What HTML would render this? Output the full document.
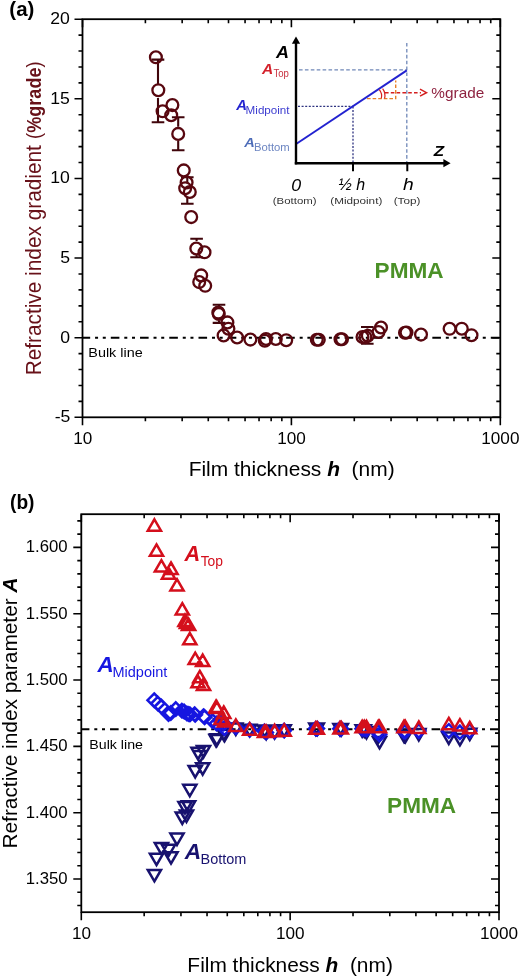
<!DOCTYPE html>
<html><head><meta charset="utf-8"><title>Refractive index gradient vs film thickness</title>
<style>
html,body{margin:0;padding:0;background:#fff;}
svg{display:block;}
text{font-family:"Liberation Sans", Arial, Helvetica, sans-serif;white-space:pre;}
</style></head>
<body>
<svg width="520" height="978" viewBox="0 0 520 978">
<rect width="520" height="978" fill="#fff"/>
<rect x="82.5" y="19.2" width="417.8" height="398.1" fill="none" stroke="#000" stroke-width="1.8"/>
<path d="M74.5 417.3H82.5M492.3 417.3H500.3M74.5 337.68H82.5M492.3 337.68H500.3M74.5 258.06H82.5M492.3 258.06H500.3M74.5 178.44H82.5M492.3 178.44H500.3M74.5 98.82H82.5M492.3 98.82H500.3M74.5 19.2H82.5M492.3 19.2H500.3M78.5 401.38H82.5M496.3 401.38H500.3M78.5 385.45H82.5M496.3 385.45H500.3M78.5 369.53H82.5M496.3 369.53H500.3M78.5 353.6H82.5M496.3 353.6H500.3M78.5 321.76H82.5M496.3 321.76H500.3M78.5 305.83H82.5M496.3 305.83H500.3M78.5 289.91H82.5M496.3 289.91H500.3M78.5 273.98H82.5M496.3 273.98H500.3M78.5 242.14H82.5M496.3 242.14H500.3M78.5 226.21H82.5M496.3 226.21H500.3M78.5 210.29H82.5M496.3 210.29H500.3M78.5 194.36H82.5M496.3 194.36H500.3M78.5 162.52H82.5M496.3 162.52H500.3M78.5 146.59H82.5M496.3 146.59H500.3M78.5 130.67H82.5M496.3 130.67H500.3M78.5 114.74H82.5M496.3 114.74H500.3M78.5 82.9H82.5M496.3 82.9H500.3M78.5 66.97H82.5M496.3 66.97H500.3M78.5 51.05H82.5M496.3 51.05H500.3M78.5 35.12H82.5M496.3 35.12H500.3M82.5 417.3V425.3M82.5 19.2V27.2M291.4 417.3V425.3M291.4 19.2V27.2M500.3 417.3V425.3M500.3 19.2V27.2M145.39 417.3V421.3M145.39 19.2V23.2M182.17 417.3V421.3M182.17 19.2V23.2M208.27 417.3V421.3M208.27 19.2V23.2M228.51 417.3V421.3M228.51 19.2V23.2M245.06 417.3V421.3M245.06 19.2V23.2M259.04 417.3V421.3M259.04 19.2V23.2M271.16 417.3V421.3M271.16 19.2V23.2M281.84 417.3V421.3M281.84 19.2V23.2M354.29 417.3V421.3M354.29 19.2V23.2M391.07 417.3V421.3M391.07 19.2V23.2M417.17 417.3V421.3M417.17 19.2V23.2M437.41 417.3V421.3M437.41 19.2V23.2M453.96 417.3V421.3M453.96 19.2V23.2M467.94 417.3V421.3M467.94 19.2V23.2M480.06 417.3V421.3M480.06 19.2V23.2M490.74 417.3V421.3M490.74 19.2V23.2" stroke="#000" stroke-width="1.6" fill="none"/>
<text x="54.70" y="422.30" textLength="15.66" lengthAdjust="spacingAndGlyphs" font-size="16">-5</text>
<text x="60.20" y="342.68" textLength="9.80" lengthAdjust="spacingAndGlyphs" font-size="16">0</text>
<text x="60.20" y="263.06" textLength="9.80" lengthAdjust="spacingAndGlyphs" font-size="16">5</text>
<text x="50.30" y="183.44" textLength="19.58" lengthAdjust="spacingAndGlyphs" font-size="16">10</text>
<text x="50.30" y="103.82" textLength="19.58" lengthAdjust="spacingAndGlyphs" font-size="16">15</text>
<text x="50.30" y="24.20" textLength="19.58" lengthAdjust="spacingAndGlyphs" font-size="16">20</text>
<text x="73.17" y="443.70" textLength="19.04" lengthAdjust="spacingAndGlyphs" font-size="16">10</text>
<text x="277.25" y="443.70" textLength="28.57" lengthAdjust="spacingAndGlyphs" font-size="16">100</text>
<text x="481.34" y="443.70" textLength="38.09" lengthAdjust="spacingAndGlyphs" font-size="16">1000</text>
<line x1="82.5" y1="337.7" x2="500.3" y2="337.7" stroke="#000" stroke-width="2.1" stroke-dasharray="8.6 4.9 3 4.7 3 5.03" stroke-dashoffset="0.93"/>
<path d="M158 59.6V83.9M158 97.9V122.2M151.7 59.6H164.3M151.7 122.2H164.3M178.2 117.3V126.75M178.2 140.75V150.2M171.9 117.3H184.5M171.9 150.2H184.5M187.3 177.3V183.55M187.3 197.55V203.8M181 177.3H193.6M181 203.8H193.6M196.6 238.8V241.05M196.6 255.05V257.3M190.3 238.8H202.9M190.3 257.3H202.9M219 304.7V306.8M219 320.8V322.9M212.7 304.7H225.3M212.7 322.9H225.3M367.3 327V328.4M367.3 342.4V343.8M361 327H373.6M361 343.8H373.6" stroke="#40050b" stroke-width="2.1" fill="none"/>
<g fill="none" stroke="#58070f" stroke-width="2.3">
<circle cx="155.9" cy="57.3" r="5.9"/>
<circle cx="158.3" cy="90.2" r="5.9"/>
<circle cx="162.6" cy="111.3" r="5.9"/>
<circle cx="172.4" cy="105.1" r="5.9"/>
<circle cx="171.2" cy="115.2" r="5.9"/>
<circle cx="178.2" cy="133.9" r="5.9"/>
<circle cx="183.75" cy="170.4" r="5.9"/>
<circle cx="186.6" cy="182.5" r="5.9"/>
<circle cx="185.2" cy="188.2" r="5.9"/>
<circle cx="189.8" cy="192" r="5.9"/>
<circle cx="191.2" cy="217.1" r="5.9"/>
<circle cx="196.3" cy="248.5" r="5.9"/>
<circle cx="204.5" cy="252.3" r="5.9"/>
<circle cx="201.2" cy="275.4" r="5.9"/>
<circle cx="199.2" cy="282.1" r="5.9"/>
<circle cx="205.2" cy="285.8" r="5.9"/>
<circle cx="218.3" cy="312.6" r="5.9"/>
<circle cx="218.8" cy="314" r="5.9"/>
<circle cx="227.4" cy="322.4" r="5.9"/>
<circle cx="228.4" cy="328.7" r="5.9"/>
<circle cx="223.6" cy="335.4" r="5.9"/>
<circle cx="237.1" cy="337.5" r="5.9"/>
<circle cx="250.4" cy="339.6" r="5.9"/>
<circle cx="264.8" cy="340.8" r="5.9"/>
<circle cx="266" cy="339" r="5.9"/>
<circle cx="275.8" cy="339" r="5.9"/>
<circle cx="286.2" cy="340.2" r="5.9"/>
<circle cx="316.8" cy="339.8" r="5.9"/>
<circle cx="318.8" cy="339.8" r="5.9"/>
<circle cx="340.5" cy="339.2" r="5.9"/>
<circle cx="342" cy="339.2" r="5.9"/>
<circle cx="362.5" cy="337.1" r="5.9"/>
<circle cx="365.4" cy="337.1" r="5.9"/>
<circle cx="367.8" cy="335.7" r="5.9"/>
<circle cx="381" cy="327.5" r="5.9"/>
<circle cx="378.5" cy="332" r="5.9"/>
<circle cx="405" cy="332.7" r="5.9"/>
<circle cx="406.5" cy="332.5" r="5.9"/>
<circle cx="421" cy="334.6" r="5.9"/>
<circle cx="449.6" cy="328.8" r="5.9"/>
<circle cx="461.8" cy="328.7" r="5.9"/>
<circle cx="471.5" cy="335.2" r="5.9"/>
</g>
<text x="88.33" y="357.40" textLength="54.34" lengthAdjust="spacingAndGlyphs" font-size="13.4">Bulk line</text>
<text x="374.57" y="278.30" textLength="69.08" lengthAdjust="spacingAndGlyphs" font-size="22" font-weight="bold" fill="#4b9127">PMMA</text>
<text transform="translate(40.80 375.36) rotate(-90)" x="0" y="0" textLength="230.23" lengthAdjust="spacingAndGlyphs" font-size="21.2" fill="#681119">Refractive index gradient</text>
<text transform="translate(40.80 138.88) rotate(-90)" x="0" y="0" textLength="77.42" lengthAdjust="spacingAndGlyphs" font-size="20.5" fill="#681119">(<tspan font-weight="bold">%grade</tspan>)</text>
<text x="188.68" y="476.20" textLength="205.97" lengthAdjust="spacingAndGlyphs" font-size="19.8">Film thickness <tspan font-weight="bold" font-style="italic">h</tspan>  (nm)</text>
<text x="9.38" y="16.30" textLength="25.01" lengthAdjust="spacingAndGlyphs" font-size="20" font-weight="bold">(a)</text>
<line x1="299" y1="69.9" x2="406.8" y2="69.9" stroke="#7088b8" stroke-width="1.3" stroke-dasharray="3.6 2.3"/>
<line x1="406.8" y1="43" x2="406.8" y2="163" stroke="#7088b8" stroke-width="1.3" stroke-dasharray="3.6 2.3"/>
<line x1="298" y1="106.4" x2="353" y2="106.4" stroke="#2e3380" stroke-width="1.3" stroke-dasharray="2 1.6"/>
<line x1="353" y1="106.4" x2="353" y2="163" stroke="#2e3380" stroke-width="1.3" stroke-dasharray="2 1.6"/>
<line x1="296.5" y1="143.7" x2="406.8" y2="70.4" stroke="#2222d0" stroke-width="1.9"/>
<path d="M367 98.6H395.7V80.6" fill="none" stroke="#e8802a" stroke-width="1.4" stroke-dasharray="3.6 2"/>
<path d="M379.3 89.6A10 10 0 0 1 381.3 98.4M382.6 88.7A11.5 11.5 0 0 1 384.6 98.4" fill="none" stroke="#d42020" stroke-width="1.2"/>
<line x1="385" y1="92.7" x2="421" y2="92.7" stroke="#d42020" stroke-width="1.6" stroke-dasharray="3.6 2.2"/>
<path d="M420 89.2L426.5 92.7L420 96.2" fill="none" stroke="#d42020" stroke-width="1.5"/>
<text x="431.38" y="97.50" textLength="52.84" lengthAdjust="spacingAndGlyphs" font-size="15" fill="#8e2340">%grade</text>
<line x1="296" y1="164.4" x2="296" y2="43" stroke="#000" stroke-width="2.4"/>
<path d="M296 36.5L291.9 43.7H300.1Z" fill="#000"/>
<line x1="294.8" y1="163.2" x2="444" y2="163.2" stroke="#000" stroke-width="2.4"/>
<path d="M450.6 163.2L443.4 159.1V167.3Z" fill="#000"/>
<path d="M353 163V171.3M407.3 163V171.3" stroke="#000" stroke-width="2"/>
<text x="276.00" y="57.90" textLength="13.01" lengthAdjust="spacingAndGlyphs" font-size="16.5" font-weight="bold" font-style="italic">A</text>
<text x="433.70" y="156.30" textLength="10.36" lengthAdjust="spacingAndGlyphs" font-size="15" font-weight="bold" font-style="italic">Z</text>
<text x="261.90" y="74.20" textLength="11.25" lengthAdjust="spacingAndGlyphs" font-size="14" font-weight="bold" font-style="italic" fill="#d4222c">A</text>
<text x="273.50" y="77.30" textLength="15.42" lengthAdjust="spacingAndGlyphs" font-size="10" fill="#c8303f">Top</text>
<text x="236.30" y="110.40" textLength="10.74" lengthAdjust="spacingAndGlyphs" font-size="15" font-weight="bold" font-style="italic" fill="#2424d0">A</text>
<text x="245.64" y="114.10" textLength="43.94" lengthAdjust="spacingAndGlyphs" font-size="10" fill="#3c3cd0">Midpoint</text>
<text x="244.30" y="146.50" textLength="10.51" lengthAdjust="spacingAndGlyphs" font-size="13.5" font-weight="bold" font-style="italic" fill="#4d6cb8">A</text>
<text x="253.97" y="150.50" textLength="35.81" lengthAdjust="spacingAndGlyphs" font-size="10" fill="#6d86c2">Bottom</text>
<text x="291.39" y="190.50" textLength="9.91" lengthAdjust="spacingAndGlyphs" font-size="16" font-style="italic">0</text>
<text x="338.60" y="190.30" textLength="26.58" lengthAdjust="spacingAndGlyphs" font-size="16" font-style="italic">½ h</text>
<text x="403.00" y="190.30" textLength="10.69" lengthAdjust="spacingAndGlyphs" font-size="16" font-style="italic">h</text>
<text x="272.81" y="204.10" textLength="43.74" lengthAdjust="spacingAndGlyphs" font-size="9.6" fill="#333">(Bottom)</text>
<text x="330.28" y="204.10" textLength="52.02" lengthAdjust="spacingAndGlyphs" font-size="9.6" fill="#333">(Midpoint)</text>
<text x="393.68" y="204.10" textLength="26.67" lengthAdjust="spacingAndGlyphs" font-size="9.6" fill="#333">(Top)</text>
<rect x="81.3" y="514.2" width="417.7" height="398" fill="none" stroke="#000" stroke-width="1.8"/>
<path d="M73.3 879.03H81.3M491 879.03H499M73.3 812.7H81.3M491 812.7H499M73.3 746.37H81.3M491 746.37H499M73.3 680.03H81.3M491 680.03H499M73.3 613.7H81.3M491 613.7H499M73.3 547.37H81.3M491 547.37H499M77.3 905.57H81.3M495 905.57H499M77.3 892.3H81.3M495 892.3H499M77.3 865.77H81.3M495 865.77H499M77.3 852.5H81.3M495 852.5H499M77.3 839.23H81.3M495 839.23H499M77.3 825.97H81.3M495 825.97H499M77.3 799.43H81.3M495 799.43H499M77.3 786.17H81.3M495 786.17H499M77.3 772.9H81.3M495 772.9H499M77.3 759.63H81.3M495 759.63H499M77.3 733.1H81.3M495 733.1H499M77.3 719.83H81.3M495 719.83H499M77.3 706.57H81.3M495 706.57H499M77.3 693.3H81.3M495 693.3H499M77.3 666.77H81.3M495 666.77H499M77.3 653.5H81.3M495 653.5H499M77.3 640.23H81.3M495 640.23H499M77.3 626.97H81.3M495 626.97H499M77.3 600.43H81.3M495 600.43H499M77.3 587.17H81.3M495 587.17H499M77.3 573.9H81.3M495 573.9H499M77.3 560.63H81.3M495 560.63H499M77.3 534.1H81.3M495 534.1H499M77.3 520.83H81.3M495 520.83H499M81.3 912.2V920.2M81.3 514.2V522.2M290.15 912.2V920.2M290.15 514.2V522.2M499 912.2V920.2M499 514.2V522.2M144.17 912.2V916.2M144.17 514.2V518.2M180.95 912.2V916.2M180.95 514.2V518.2M207.04 912.2V916.2M207.04 514.2V518.2M227.28 912.2V916.2M227.28 514.2V518.2M243.82 912.2V916.2M243.82 514.2V518.2M257.8 912.2V916.2M257.8 514.2V518.2M269.91 912.2V916.2M269.91 514.2V518.2M280.59 912.2V916.2M280.59 514.2V518.2M353.02 912.2V916.2M353.02 514.2V518.2M389.8 912.2V916.2M389.8 514.2V518.2M415.89 912.2V916.2M415.89 514.2V518.2M436.13 912.2V916.2M436.13 514.2V518.2M452.67 912.2V916.2M452.67 514.2V518.2M466.65 912.2V916.2M466.65 514.2V518.2M478.76 912.2V916.2M478.76 514.2V518.2M489.44 912.2V916.2M489.44 514.2V518.2" stroke="#000" stroke-width="1.6" fill="none"/>
<text x="25.80" y="884.03" textLength="41.85" lengthAdjust="spacingAndGlyphs" font-size="16">1.350</text>
<text x="25.80" y="817.70" textLength="41.85" lengthAdjust="spacingAndGlyphs" font-size="16">1.400</text>
<text x="25.80" y="751.37" textLength="41.85" lengthAdjust="spacingAndGlyphs" font-size="16">1.450</text>
<text x="25.80" y="685.03" textLength="41.85" lengthAdjust="spacingAndGlyphs" font-size="16">1.500</text>
<text x="25.80" y="618.70" textLength="41.85" lengthAdjust="spacingAndGlyphs" font-size="16">1.550</text>
<text x="25.80" y="552.37" textLength="41.85" lengthAdjust="spacingAndGlyphs" font-size="16">1.600</text>
<text x="71.97" y="938.70" textLength="19.04" lengthAdjust="spacingAndGlyphs" font-size="16">10</text>
<text x="276.00" y="938.70" textLength="28.57" lengthAdjust="spacingAndGlyphs" font-size="16">100</text>
<text x="480.04" y="938.70" textLength="38.09" lengthAdjust="spacingAndGlyphs" font-size="16">1000</text>
<line x1="81.3" y1="729.3" x2="499" y2="729.3" stroke="#000" stroke-width="2.1" stroke-dasharray="8.6 4.9 3 4.7 3 5.03" stroke-dashoffset="0.5"/>
<path d="M154.4 881.32L161 869.92H147.8ZM156.5 865.04L163.1 853.64H149.9ZM161.4 854.43L168 843.03H154.8ZM171 863.53L177.6 852.13H164.4ZM168.5 856.19L175.1 844.79H161.9ZM177 844.96L183.6 833.56H170.4ZM182.3 823.93L188.9 812.53H175.7ZM186.5 821.9L193.1 810.5H179.9ZM185 813.41L191.6 802.01H178.4ZM188.6 812.6L195.2 801.2H182ZM189.8 796.17L196.4 784.77H183.2ZM195.2 777.39L201.8 765.99H188.6ZM202.7 774.64L209.3 763.24H196.1ZM199.8 762.5L206.4 751.1H193.2ZM198 759.25L204.6 747.85H191.4ZM203.5 757.4L210.1 746H196.9ZM216.1 746.46L222.7 735.06H209.5ZM217 745.74L223.6 734.34H210.4ZM223.75 740.38L230.35 728.98H217.15ZM224.5 741.25L231.1 729.85H217.9ZM221 730.59L227.6 719.19H214.4ZM235.8 734.92L242.4 723.52H229.2ZM249.7 736.16L256.3 724.76H243.1ZM264.5 737L271.1 725.6H257.9ZM266.2 739.19L272.8 727.79H259.6ZM274.6 738.39L281.2 726.99H268ZM284.2 736.53L290.8 725.13H277.6ZM315.8 734.92L322.4 723.52H309.2ZM317.3 734.92L323.9 723.52H310.7ZM340 735.45L346.6 724.05H333.4ZM341.3 735.45L347.9 724.05H334.7ZM362.2 736.71L368.8 725.31H355.6ZM364.3 736.71L370.9 725.31H357.7ZM366.5 738.41L373.1 727.01H359.9ZM379.5 748.37L386.1 736.97H372.9ZM378.3 742.91L384.9 731.51H371.7ZM404 742.06L410.6 730.66H397.4ZM405.3 742.31L411.9 730.91H398.7ZM418.8 740.45L425.4 729.05H412.2ZM448.8 743.91L455.4 732.51H442.2ZM459.9 745.33L466.5 733.93H453.3ZM469.7 740.12L476.3 728.72H463.1Z" fill="none" stroke="#18126f" stroke-width="2.5"/>
<path d="M154.2 693.5L160.9 700.2L154.2 706.9L147.5 700.2ZM157.8 696.8L164.5 703.5L157.8 710.2L151.1 703.5ZM161.5 700L168.2 706.7L161.5 713.4L154.8 706.7ZM170.8 706.3L177.5 713L170.8 719.7L164.1 713ZM168.5 707.3L175.2 714L168.5 720.7L161.8 714ZM175.8 702.3L182.5 709L175.8 715.7L169.1 709ZM181.8 703.9L188.5 710.6L181.8 717.3L175.1 710.6ZM187 706.9L193.7 713.6L187 720.3L180.3 713.6ZM184.2 704.8L190.9 711.5L184.2 718.2L177.5 711.5ZM188.8 707.3L195.5 714L188.8 720.7L182.1 714ZM190 707.7L196.7 714.4L190 721.1L183.3 714.4ZM194.6 707.6L201.3 714.3L194.6 721L187.9 714.3ZM203.5 709.6L210.2 716.3L203.5 723L196.8 716.3ZM204.2 709.9L210.9 716.6L204.2 723.3L197.5 716.6ZM195.2 708.1L201.9 714.8L195.2 721.5L188.5 714.8ZM204.6 710.5L211.3 717.2L204.6 723.9L197.9 717.2ZM212.5 714.3L219.2 721L212.5 727.7L205.8 721ZM216.5 716.8L223.2 723.5L216.5 730.2L209.8 723.5ZM223.75 716.74L230.45 723.44L223.75 730.14L217.05 723.44ZM224.5 721.48L231.2 728.18L224.5 734.88L217.8 728.18ZM221 714.89L227.7 721.59L221 728.29L214.3 721.59ZM235.8 720.51L242.5 727.21L235.8 733.91L229.1 727.21ZM249.7 723.03L256.4 729.73L249.7 736.43L243 729.73ZM264.5 724.6L271.2 731.3L264.5 738L257.8 731.3ZM266.2 725.7L272.9 732.4L266.2 739.1L259.5 732.4ZM274.6 724.9L281.3 731.6L274.6 738.3L267.9 731.6ZM284.2 723.77L290.9 730.47L284.2 737.17L277.5 730.47ZM315.8 721.91L322.5 728.61L315.8 735.31L309.1 728.61ZM317.3 721.91L324 728.61L317.3 735.31L310.6 728.61ZM340 722.07L346.7 728.77L340 735.47L333.3 728.77ZM341.3 722.07L348 728.77L341.3 735.47L334.6 728.77ZM362.2 722.05L368.9 728.75L362.2 735.45L355.5 728.75ZM364.3 722.05L371 728.75L364.3 735.45L357.6 728.75ZM366.5 722.91L373.2 729.61L366.5 736.31L359.8 729.61ZM379.5 727.89L386.2 734.59L379.5 741.29L372.8 734.59ZM378.3 725.16L385 731.86L378.3 738.56L371.6 731.86ZM404 724.73L410.7 731.43L404 738.13L397.3 731.43ZM405.3 724.85L412 731.55L405.3 738.25L398.6 731.55ZM418.8 724.28L425.5 730.98L418.8 737.68L412.1 730.98ZM448.8 724.21L455.5 730.91L448.8 737.61L442.1 730.91ZM459.9 725.56L466.6 732.26L459.9 738.96L453.2 732.26ZM469.7 724.31L476.4 731.01L469.7 737.71L463 731.01Z" fill="none" stroke="#1616e0" stroke-width="2.5"/>
<path d="M154.4 519.3L161 530.7H147.8ZM156.5 544.4L163.1 555.8H149.9ZM161.4 560.2L168 571.6H154.8ZM171 562.5L177.6 573.9H164.4ZM168.5 567.4L175.1 578.8H161.9ZM177 579.2L183.6 590.6H170.4ZM182.3 603.2L188.9 614.6H175.7ZM186.5 616.6L193.1 628H179.9ZM185 614.6L191.6 626H178.4ZM188.6 618.6L195.2 630H182ZM189.8 632.9L196.4 644.3H183.2ZM195.2 652.7L201.8 664.1H188.6ZM202.7 654.6L209.3 666H196.1ZM199.8 670.9L206.4 682.3H193.2ZM198 675.9L204.6 687.3H191.4ZM203.5 678.6L210.1 690H196.9ZM216.1 700.6L222.7 712H209.5ZM217 701.6L223.6 713H210.4ZM223.75 706.5L230.35 717.9H217.15ZM224.5 715.1L231.1 726.5H217.9ZM221 712.6L227.6 724H214.4ZM235.8 719.5L242.4 730.9H229.2ZM249.7 723.3L256.3 734.7H243.1ZM264.5 725.6L271.1 737H257.9ZM266.2 725.6L272.8 737H259.6ZM274.6 724.8L281.2 736.2H268ZM284.2 724.4L290.8 735.8H277.6ZM315.8 722.3L322.4 733.7H309.2ZM317.3 722.3L323.9 733.7H310.7ZM340 722.1L346.6 733.5H333.4ZM341.3 722.1L347.9 733.5H334.7ZM362.2 720.8L368.8 732.2H355.6ZM364.3 720.8L370.9 732.2H357.7ZM366.5 720.8L373.1 732.2H359.9ZM379.5 720.8L386.1 732.2H372.9ZM378.3 720.8L384.9 732.2H371.7ZM404 720.8L410.6 732.2H397.4ZM405.3 720.8L411.9 732.2H398.7ZM418.8 721.5L425.4 732.9H412.2ZM448.8 717.9L455.4 729.3H442.2ZM459.9 719.2L466.5 730.6H453.3ZM469.7 721.9L476.3 733.3H463.1Z" fill="none" stroke="#d40f1c" stroke-width="2.5"/>
<text x="89.31" y="748.50" textLength="53.65" lengthAdjust="spacingAndGlyphs" font-size="13">Bulk line</text>
<text x="184.60" y="561.20" textLength="15.70" lengthAdjust="spacingAndGlyphs" font-size="21.5" font-weight="bold" font-style="italic" fill="#d40f1c">A</text>
<text x="200.70" y="566.40" textLength="22.35" lengthAdjust="spacingAndGlyphs" font-size="13.8" fill="#d40f1c">Top</text>
<text x="97.40" y="671.50" textLength="16.20" lengthAdjust="spacingAndGlyphs" font-size="21.5" font-weight="bold" font-style="italic" fill="#1616e0">A</text>
<text x="112.48" y="677.40" textLength="54.86" lengthAdjust="spacingAndGlyphs" font-size="14.2" fill="#1616e0">Midpoint</text>
<text x="184.70" y="858.50" textLength="16.42" lengthAdjust="spacingAndGlyphs" font-size="21.5" font-weight="bold" font-style="italic" fill="#18126f">A</text>
<text x="200.47" y="863.60" textLength="45.91" lengthAdjust="spacingAndGlyphs" font-size="14" fill="#18126f">Bottom</text>
<text x="387.07" y="813.30" textLength="69.08" lengthAdjust="spacingAndGlyphs" font-size="22" font-weight="bold" fill="#4b9127">PMMA</text>
<text transform="translate(16.50 848.54) rotate(-90)" x="0" y="0" textLength="271.07" lengthAdjust="spacingAndGlyphs" font-size="20.4">Refractive index parameter <tspan font-weight="bold" font-style="italic">A</tspan></text>
<text x="187.39" y="971.50" textLength="205.46" lengthAdjust="spacingAndGlyphs" font-size="19.8">Film thickness <tspan font-weight="bold" font-style="italic">h</tspan>  (nm)</text>
<text x="10.04" y="509.30" textLength="24.48" lengthAdjust="spacingAndGlyphs" font-size="20" font-weight="bold">(b)</text>
</svg>
</body></html>
